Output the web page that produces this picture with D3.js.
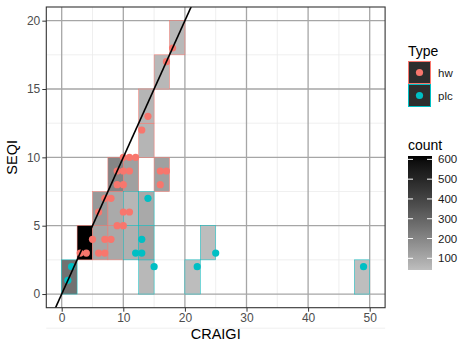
<!DOCTYPE html>
<html>
<head>
<meta charset="utf-8">
<script src="https://cdn.jsdelivr.net/npm/d3@7"></script>
<style>
  html, body { margin: 0; padding: 0; background: #fff; }
  svg { display: block; font-family: "Liberation Sans", Arial, Helvetica, sans-serif; }
</style>
</head>
<body>
<svg id="chart" width="474" height="348"></svg>
<script>
// 2-D bins (width 2.5 in both directions): left edge, bottom edge, type, count
const binX0   = [0,    2.5, 5,   7.5, 5,   7.5, 10, 7.5, 10,  15,  12.5, 12.5, 15, 17.5, 10, 10, 12.5, 12.5, 12.5, 20, 22.5, 47.5];
const binY0   = [0,    2.5, 2.5, 2.5, 5,   5,   5,  7.5, 7.5, 7.5, 10,   12.5, 15, 17.5, 2.5, 5, 0,    2.5,  5,    0,  2.5,  0];
const binType = ["plc","hw","hw","hw","hw","hw","hw","hw","hw","hw","hw","hw","hw","hw","plc","plc","plc","plc","plc","plc","plc","plc"];
const binCount= [260,  617, 110, 100, 145, 95,  70, 200, 124, 124, 65,   65,   57, 57,   80,  62, 57,   120,  100,  45, 45,   41];

// distinct observations per type
const ptX    = [3,4,5,6,7,7,8,6,7,8,9,10,10,11,9,10,10,11,9,10,11,12,13,14,16,16,17,17,18,
                1,1.6,12,13,13,14,15,22,25,49];
const ptY    = [3,3,4,3,3,4,4,6,7,7,5,5,6,6,8,8,9,9,9,10,10,10,12,13,8,9,9,17,18,
                1,2,3,3,4,7,2,2,3,2];
const ptType = ["hw","hw","hw","hw","hw","hw","hw","hw","hw","hw","hw","hw","hw","hw","hw","hw","hw","hw","hw","hw","hw","hw","hw","hw","hw","hw","hw","hw","hw",
                "plc","plc","plc","plc","plc","plc","plc","plc","plc","plc"];

const types = ["hw", "plc"];
const typeColors = ["#F8766D", "#00BFC4"];
const xTicks = [0, 10, 20, 30, 40, 50];
const yTicks = [0, 5, 10, 15, 20];
const countTicks = [100, 200, 300, 400, 500, 600];
const binWidth = 2.5;

const svg = d3.select("#chart");
const panel = { left: 46.3, right: 385.1, top: 7, bottom: 307.7 };

const x = d3.scaleLinear().domain([-2.5, 52.5]).range([panel.left, panel.right]);
const y = d3.scaleLinear().domain([-1, 21]).range([panel.bottom, panel.top]);
const colour = d3.scaleOrdinal().domain(types).range(typeColors);
const fill = d3.scaleLinear().domain(d3.extent(binCount)).range(["#BEBEBE", "#000000"])
  .interpolate(d3.interpolateLab);

const bins = binX0.map((x0, i) => ({ x0, y0: binY0[i], type: binType[i], count: binCount[i] }));
const points = ptX.map((px, i) => ({ x: px, y: ptY[i], type: ptType[i] }));

// panel background + grid
const g = svg.append("g");
g.append("rect").attr("x", panel.left).attr("y", panel.top)
  .attr("width", panel.right - panel.left).attr("height", panel.bottom - panel.top).attr("fill", "#fff");

const xMinor = d3.range(0, 55, 5).filter(v => v % 10 !== 0);
const yMinor = d3.range(-2.5, 22.5, 5);
g.selectAll(".xminor").data(xMinor).join("line")
  .attr("x1", d => x(d)).attr("x2", d => x(d)).attr("y1", panel.top).attr("y2", panel.bottom)
  .attr("stroke", "#ebebeb").attr("stroke-width", 0.8);
g.selectAll(".yminor").data(yMinor).join("line")
  .attr("y1", d => y(d)).attr("y2", d => y(d)).attr("x1", panel.left).attr("x2", panel.right)
  .attr("stroke", "#ebebeb").attr("stroke-width", 0.8);
g.selectAll(".xmajor").data(xTicks).join("line")
  .attr("x1", d => x(d)).attr("x2", d => x(d)).attr("y1", panel.top).attr("y2", panel.bottom)
  .attr("stroke", "#a6a6a6").attr("stroke-width", 1.3);
g.selectAll(".ymajor").data(yTicks).join("line")
  .attr("y1", d => y(d)).attr("y2", d => y(d)).attr("x1", panel.left).attr("x2", panel.right)
  .attr("stroke", "#a6a6a6").attr("stroke-width", 1.3);

// bins, hw first then plc
const binOrder = bins.slice().sort((a, b) => types.indexOf(a.type) - types.indexOf(b.type));
g.selectAll(".bin").data(binOrder).join("rect")
  .attr("x", d => x(d.x0)).attr("y", d => y(d.y0 + binWidth))
  .attr("width", d => x(d.x0 + binWidth) - x(d.x0))
  .attr("height", d => y(d.y0) - y(d.y0 + binWidth))
  .attr("fill", d => fill(d.count))
  .attr("stroke", d => colour(d.type)).attr("stroke-width", 0.5);

// observations
g.selectAll(".pt").data(points).join("circle")
  .attr("cx", d => x(d.x)).attr("cy", d => y(d.y)).attr("r", 3.6)
  .attr("fill", d => colour(d.type));

// identity reference line y = x, clipped to the panel
svg.append("clipPath").attr("id", "clip").append("rect")
  .attr("x", panel.left).attr("y", panel.top)
  .attr("width", panel.right - panel.left).attr("height", panel.bottom - panel.top);
g.append("line").attr("clip-path", "url(#clip)")
  .attr("x1", x(-5)).attr("y1", y(-5)).attr("x2", x(25)).attr("y2", y(25))
  .attr("stroke", "#000").attr("stroke-width", 1.6);

// panel border
g.append("rect").attr("x", panel.left).attr("y", panel.top)
  .attr("width", panel.right - panel.left).attr("height", panel.bottom - panel.top)
  .attr("fill", "none").attr("stroke", "#333").attr("stroke-width", 1.1);

// axes
const xAxis = svg.append("g").attr("transform", `translate(0,${panel.bottom})`)
  .call(d3.axisBottom(x).tickValues(xTicks).tickSize(4).tickPadding(2));
const yAxis = svg.append("g").attr("transform", `translate(${panel.left},0)`)
  .call(d3.axisLeft(y).tickValues(yTicks).tickSize(4).tickPadding(2));
[xAxis, yAxis].forEach(a => {
  a.select(".domain").remove();
  a.selectAll(".tick line").attr("stroke", "#333").attr("stroke-width", 1);
  a.selectAll(".tick text").attr("fill", "#4d4d4d").style("font-size", "12px")
    .style("font-family", "'Liberation Sans', Arial, sans-serif");
});

svg.append("text").attr("x", (panel.left + panel.right) / 2).attr("y", 339)
  .attr("text-anchor", "middle").style("font-size", "14.5px").attr("fill", "#000").text("CRAIGI");
svg.append("text").attr("transform", `translate(17,${(panel.top + panel.bottom) / 2}) rotate(-90)`)
  .attr("text-anchor", "middle").style("font-size", "14.5px").attr("fill", "#000").text("SEQI");

// legend: Type
const lx = 408;
svg.append("text").attr("x", lx).attr("y", 56).style("font-size", "14px").attr("fill", "#000").text("Type");
const keyH = 23;
const keys = svg.selectAll(".key").data(types).join("g")
  .attr("transform", (d, i) => `translate(${lx},${61 + i * keyH})`);
keys.append("rect").attr("x", 0.5).attr("y", 0.5).attr("width", keyH - 1).attr("height", keyH - 1)
  .attr("fill", "#2e2e2e").attr("stroke", d => colour(d)).attr("stroke-width", 1);
keys.append("circle").attr("cx", keyH / 2).attr("cy", keyH / 2).attr("r", 3.6).attr("fill", d => colour(d));
keys.append("text").attr("x", keyH + 7).attr("y", keyH / 2 + 4).style("font-size", "11.5px")
  .attr("fill", "#1a1a1a").text(d => d);

// legend: count colourbar
svg.append("text").attr("x", lx).attr("y", 150).style("font-size", "14px").attr("fill", "#000").text("count");
const barTop = 156, barBottom = 270, barW = 24;
const cy = d3.scaleLinear().domain(fill.domain()).range([barBottom, barTop]);
const grad = svg.append("defs").append("linearGradient").attr("id", "cgrad")
  .attr("x1", 0).attr("y1", 1).attr("x2", 0).attr("y2", 0);
d3.range(0, 1.0001, 0.05).forEach(t => {
  grad.append("stop").attr("offset", t)
    .attr("stop-color", fill(fill.domain()[0] + t * (fill.domain()[1] - fill.domain()[0])));
});
svg.append("rect").attr("x", lx).attr("y", barTop).attr("width", barW).attr("height", barBottom - barTop)
  .attr("fill", "url(#cgrad)");
const ct = svg.selectAll(".ctick").data(countTicks).join("g");
ct.append("line").attr("x1", lx).attr("x2", lx + 5).attr("y1", d => cy(d)).attr("y2", d => cy(d))
  .attr("stroke", "#fff").attr("stroke-width", 1);
ct.append("line").attr("x1", lx + barW - 5).attr("x2", lx + barW).attr("y1", d => cy(d)).attr("y2", d => cy(d))
  .attr("stroke", "#fff").attr("stroke-width", 1);
ct.append("text").attr("x", lx + barW + 6).attr("y", d => cy(d) + 4).style("font-size", "11.5px")
  .attr("fill", "#1a1a1a").text(d => d);
</script>
</body>
</html>
